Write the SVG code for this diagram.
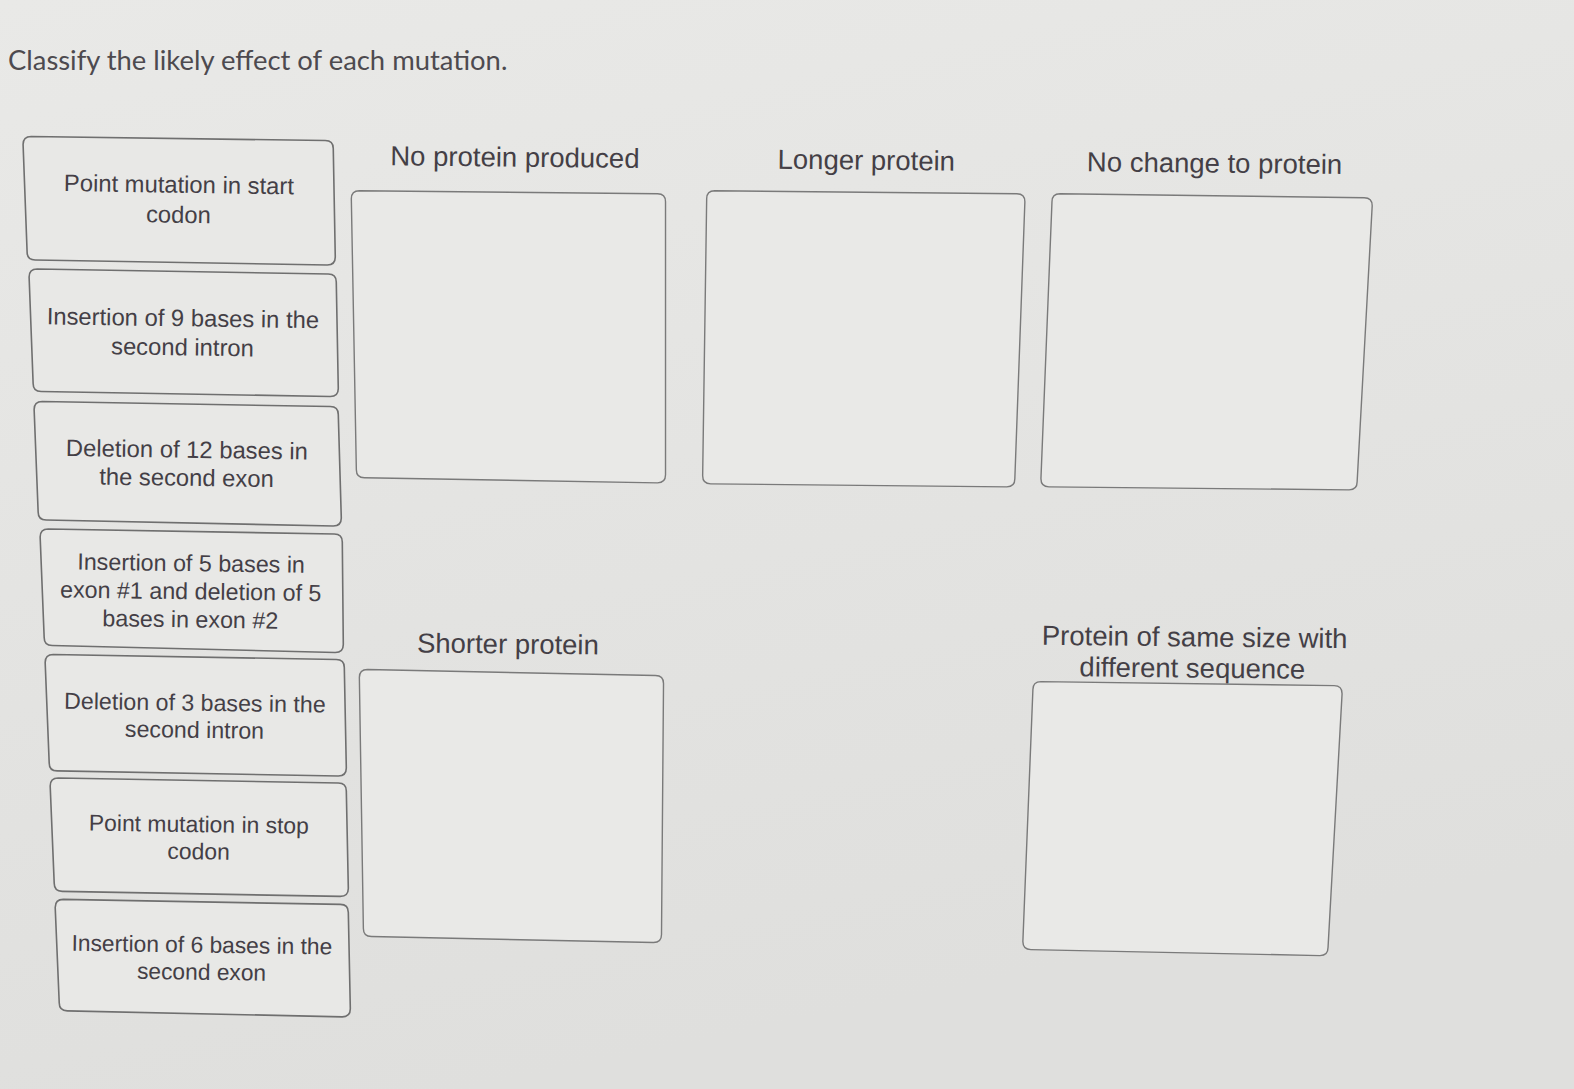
<svg xmlns="http://www.w3.org/2000/svg" width="1574" height="1089" viewBox="0 0 1574 1089">
<defs>
<linearGradient id="bg" x1="0" y1="0" x2="0.3" y2="1">
<stop offset="0" stop-color="#e9e9e7"/>
<stop offset="1" stop-color="#dfdfdd"/>
</linearGradient>
<style>
.box{fill:#e8e8e6;stroke:#6f6f6f;stroke-width:1.6}
.tgt{fill:#e9e9e7;stroke:#7a7a7a;stroke-width:1.4}
.t{font-family:"Liberation Sans",Arial,sans-serif;font-size:23.7px;fill:#443f46;text-anchor:middle}
.lbl{font-family:"Liberation Sans",Arial,sans-serif;font-size:27.4px;fill:#443f46;text-anchor:middle}
.title{font-family:Lato,"Open Sans",sans-serif;font-size:27.3px;fill:#4d4a4f}
</style>
</defs>
<rect width="1574" height="1089" fill="url(#bg)"/>
<g transform="scale(1.0038)">
<text class="title" x="8" y="70">Classify the likely effect of each mutation.</text>

<g id="m1"><path class="box" d="M31,136 L324,140 Q332,140 332,148 L334,256 Q334,264 326,264 L35,259 Q27,259 27,251 L23,144 Q23,136 31,136 Z"/>
<text class="t" transform="rotate(0.8 178 200)"><tspan x="178" y="192">Point mutation in start</tspan><tspan x="178" y="222">codon</tspan></text></g>

<g id="m2"><path class="box" d="M37,268 L327,273 Q335,273 335,281 L337,387 Q337,395 329,395 L41,390 Q33,390 33,382 L29,276 Q29,268 37,268 Z"/>
<text class="t" transform="rotate(0.8 182 332)"><tspan x="182" y="325">Insertion of 9 bases in the</tspan><tspan x="182" y="354">second intron</tspan></text></g>

<g id="m3"><path class="box" d="M42,400 L329,405 Q337,405 337,413 L340,516 Q340,524 332,524 L46,518 Q38,518 38,510 L34,408 Q34,400 42,400 Z"/>
<text class="t" transform="rotate(0.8 186 462)"><tspan x="186" y="456">Deletion of 12 bases in</tspan><tspan x="186" y="484">the second exon</tspan></text></g>

<g id="m4"><path class="box" d="M48,527 L333,532 Q341,532 341,540 L342,642 Q342,650 334,650 L52,643 Q44,643 44,635 L40,535 Q40,527 48,527 Z"/>
<text class="t" style="font-size:23.2px" transform="rotate(0.8 190 589)"><tspan x="190" y="569">Insertion of 5 bases in</tspan><tspan x="190" y="597">exon #1 and deletion of 5</tspan><tspan x="190" y="625">bases in exon #2</tspan></text></g>

<g id="m5"><path class="box" d="M53,652 L335,657 Q343,657 343,665 L345,765 Q345,773 337,773 L57,768 Q49,768 49,760 L45,660 Q45,652 53,652 Z"/>
<text class="t" style="font-size:23.1px" transform="rotate(0.8 194 713)"><tspan x="194" y="708">Deletion of 3 bases in the</tspan><tspan x="194" y="735">second intron</tspan></text></g>

<g id="m6"><path class="box" d="M58,775 L337,780 Q345,780 345,788 L347,885 Q347,893 339,893 L62,888 Q54,888 54,880 L50,783 Q50,775 58,775 Z"/>
<text class="t" style="font-size:22.8px" transform="rotate(0.8 198 835)"><tspan x="198" y="829">Point mutation in stop</tspan><tspan x="198" y="856">codon</tspan></text></g>

<g id="m7"><path class="box" d="M63,896 L339,901 Q347,901 347,909 L349,1005 Q349,1013 341,1013 L67,1007 Q59,1007 59,999 L55,904 Q55,896 63,896 Z"/>
<text class="t" style="font-size:22.7px" transform="rotate(0.8 201 955)"><tspan x="201" y="949">Insertion of 6 bases in the</tspan><tspan x="201" y="976">second exon</tspan></text></g>

<g id="c1"><text class="lbl" x="513" y="166" transform="rotate(0.6 513 157)">No protein produced</text>
<path class="tgt" d="M358,190 L655,193 Q663,193 663,201 L663,473 Q663,481 655,481 L363,476 Q355,476 355,468 L350,198 Q350,190 358,190 Z"/></g>

<g id="c2"><text class="lbl" x="863" y="169" transform="rotate(0.6 863 160)">Longer protein</text>
<path class="tgt" d="M712,190 L1013,193 Q1021,193 1021,201 L1011,477 Q1011,485 1003,485 L708,482 Q700,482 700,474 L704,198 Q704,190 712,190 Z"/></g>

<g id="c3"><text class="lbl" x="1210" y="172" transform="rotate(0.6 1210 163)">No change to protein</text>
<path class="tgt" d="M1056,193 L1359,197 Q1367,197 1367,205 L1352,480 Q1352,488 1344,488 L1045,485 Q1037,485 1037,477 L1048,201 Q1048,193 1056,193 Z"/></g>

<g id="c4"><text class="lbl" x="506" y="651" transform="rotate(0.6 506 642)">Shorter protein</text>
<path class="tgt" d="M366,667 L653,673 Q661,673 661,681 L659,931 Q659,939 651,939 L370,933 Q362,933 362,925 L358,675 Q358,667 366,667 Z"/></g>

<g id="c5"><text class="lbl" transform="rotate(0.6 1190 650)"><tspan x="1190" y="644">Protein of same size with</tspan><tspan x="1188" y="675">different sequence</tspan></text>
<path class="tgt" d="M1037,679 L1329,683 Q1337,683 1337,691 L1323,944 Q1323,952 1315,952 L1027,946 Q1019,946 1019,938 L1029,687 Q1029,679 1037,679 Z"/></g>
</g>
</svg>
